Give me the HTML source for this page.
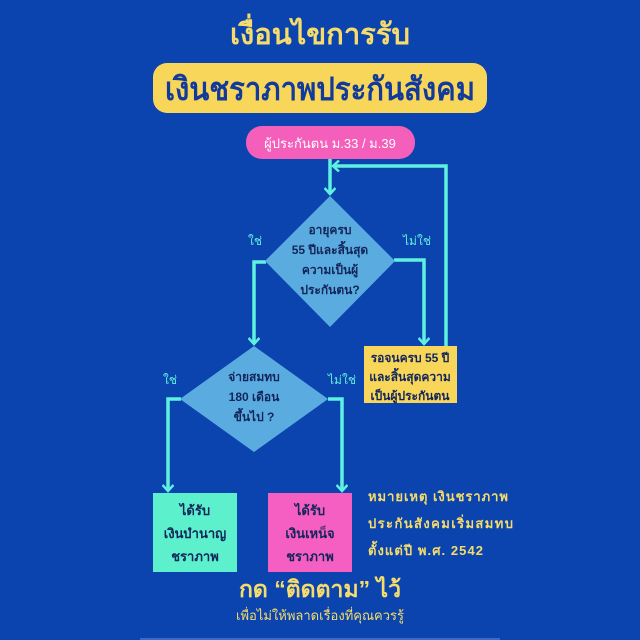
<!DOCTYPE html>
<html><head><meta charset="utf-8"><style>
html,body{margin:0;padding:0;background:#0b44ae;}
svg{display:block;}
text{font-family:"Liberation Sans","Noto Sans CJK SC","WenQuanYi Zen Hei",sans-serif;}
</style></head><body>
<svg width="640" height="640" viewBox="0 0 640 640" xmlns="http://www.w3.org/2000/svg">
<defs>
<marker id="a" markerWidth="12" markerHeight="12" refX="9" refY="6" orient="auto" markerUnits="userSpaceOnUse" viewBox="0 0 12 12">
<path d="M3,0.5 L9,6 L3,11.5" fill="none" stroke="#5ff0e0" stroke-width="2.5"/>
</marker>
</defs>
<rect width="640" height="640" fill="#0b44ae"/>
<text x="320" y="44" text-anchor="middle" font-size="29" fill="#f6dc6a" font-weight="bold" textLength="180" lengthAdjust="spacingAndGlyphs">เงื่อนไขการรับ</text>
<rect x="153" y="63" width="334" height="50" rx="14" fill="#f8d65a"/>
<text x="320" y="100" text-anchor="middle" font-size="32" fill="#113a9a" font-weight="bold" textLength="310" lengthAdjust="spacingAndGlyphs">เงินชราภาพประกันสังคม</text>
<rect x="246" y="126" width="169" height="33" rx="16" fill="#f35fba"/>
<text x="330" y="148" text-anchor="middle" font-size="13" fill="#fff">ผู้ประกันตน ม.33 / ม.39</text>

<g stroke="#5ff0e0" stroke-width="3.5" fill="none">
<line x1="330" y1="159" x2="330" y2="194" marker-end="url(#a)"/>
<polyline points="446,347 446,166 333,166" marker-end="url(#a)"/>
<polyline points="266,262 254,262 254,344" marker-end="url(#a)"/>
<polyline points="394,260 424,260 424,344" marker-end="url(#a)"/>
<polyline points="181,399 168,399 168,491" marker-end="url(#a)"/>
<polyline points="328,399 342,399 342,491" marker-end="url(#a)"/>
</g>

<polygon points="330,196 395,261 330,327 265,261" fill="#5aace0"/>
<g font-size="12" fill="#12255a" text-anchor="middle" font-weight="bold">
<text x="330" y="234">อายุครบ</text>
<text x="330" y="254">55 ปีและสิ้นสุด</text>
<text x="330" y="274">ความเป็นผู้</text>
<text x="330" y="294">ประกันตน?</text>
</g>
<text x="255" y="245" text-anchor="middle" font-size="12" fill="#5ff0e0">ใช่</text>
<text x="417" y="245" text-anchor="middle" font-size="12" fill="#5ff0e0">ไม่ใช่</text>

<rect x="364" y="346" width="93" height="57" fill="#f8d65a"/>
<g font-size="12" fill="#12255a" text-anchor="middle" font-weight="bold">
<text x="410" y="362">รอจนครบ 55 ปี</text>
<text x="410" y="381">และสิ้นสุดความ</text>
<text x="410" y="400">เป็นผู้ประกันตน</text>
</g>

<polygon points="254,346 328,399 254,452 180,399" fill="#5aace0"/>
<g font-size="12" fill="#12255a" text-anchor="middle" font-weight="bold">
<text x="254" y="381">จ่ายสมทบ</text>
<text x="254" y="401">180 เดือน</text>
<text x="254" y="421">ขึ้นไป ?</text>
</g>
<text x="170" y="384" text-anchor="middle" font-size="12" fill="#5ff0e0">ใช่</text>
<text x="342" y="384" text-anchor="middle" font-size="12" fill="#5ff0e0">ไม่ใช่</text>

<rect x="153" y="493" width="84" height="79" fill="#5df0cc"/>
<g font-size="13" fill="#12255a" text-anchor="middle" font-weight="bold">
<text x="195" y="515">ได้รับ</text>
<text x="195" y="538">เงินบำนาญ</text>
<text x="195" y="561">ชราภาพ</text>
</g>
<rect x="268" y="493" width="84" height="79" fill="#f55fc2"/>
<g font-size="13" fill="#12255a" text-anchor="middle" font-weight="bold">
<text x="310" y="515">ได้รับ</text>
<text x="310" y="538">เงินเหน็จ</text>
<text x="310" y="561">ชราภาพ</text>
</g>

<g font-size="13" fill="#f6dc6a" font-weight="bold">
<text x="368" y="501" textLength="140">หมายเหตุ เงินชราภาพ</text>
<text x="368" y="528" textLength="145">ประกันสังคมเริ่มสมทบ</text>
<text x="368" y="555" textLength="115">ตั้งแต่ปี พ.ศ. 2542</text>
</g>
<text x="320" y="597" text-anchor="middle" font-size="23" fill="#f6dc6a" font-weight="bold">กด “ติดตาม” ไว้</text>
<text x="320" y="620" text-anchor="middle" font-size="13" fill="#f6dc6a">เพื่อไม่ให้พลาดเรื่องที่คุณควรรู้</text>
<rect x="140" y="638" width="360" height="2" fill="#3a6ad0"/>
</svg>
</body></html>
